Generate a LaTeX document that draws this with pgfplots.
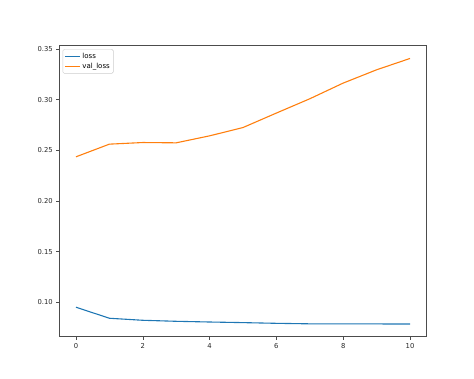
\documentclass[border=0pt]{standalone}
\usepackage{fontspec}
\setmainfont{DejaVu Sans}
\usepackage{pgfplots}
\pgfplotsset{compat=1.18}
\definecolor{mplblue}{HTML}{1F77B4}
\definecolor{mplorange}{HTML}{FF7F0E}
\begin{document}
\begin{tikzpicture}[x=1pt,y=1pt]
\useasboundingbox (0,0) rectangle (474,379);
\begin{axis}[
  at={(59.3pt,42.3pt)}, anchor=south west,
  scale only axis, width=367.4pt, height=291.4pt,
  xmin=-0.5, xmax=10.5, ymin=0.066, ymax=0.3537,
  xtick={0,2,4,6,8,10},
  ytick={0.10,0.15,0.20,0.25,0.30,0.35},
  yticklabel style={/pgf/number format/.cd,fixed,fixed zerofill,precision=2},
  /pgf/number format/assume math mode=true,
  tick label style={font=\fontsize{6.8}{8}\selectfont, text=black!85},
  tick align=outside, major tick length=3pt,
  xtick pos=bottom, ytick pos=left,
  axis line style={black!70, line width=0.6pt},
  tick style={black!70, line width=0.5pt},
  legend style={at={(rel axis cs:0.009,0.987)}, anchor=north west,
    draw=black!20, rounded corners=1.5pt, font=\fontsize{7}{8}\selectfont,
    inner sep=1.5pt, row sep=-0.5pt, legend cell align=left},
  legend image code/.code={\draw[#1] (0pt,0pt) -- (15pt,0pt);},
]
\addplot[mplblue, line width=1.1pt] coordinates {
(0,0.0951) (1,0.0842) (2,0.0822) (3,0.0812) (4,0.0805) (5,0.0799)
(6,0.0792) (7,0.0787) (8,0.0786) (9,0.0786) (10,0.0785)};
\addlegendentry{loss}
\addplot[mplorange, line width=1.1pt] coordinates {
(0,0.2436) (1,0.2561) (2,0.2577) (3,0.2574) (4,0.2643) (5,0.2725)
(6,0.2868) (7,0.3009) (8,0.3164) (9,0.3295) (10,0.3407)};
\addlegendentry{val\_loss}
\end{axis}
\end{tikzpicture}
\end{document}
